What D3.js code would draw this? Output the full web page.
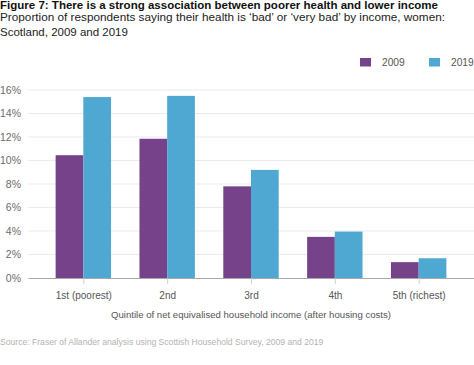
<!DOCTYPE html>
<html>
<head>
<meta charset="utf-8">
<script src="https://cdn.jsdelivr.net/npm/d3@7"></script>
<style>
  html, body { margin: 0; padding: 0; background: #fff; }
  svg { display: block; font-family: "Liberation Sans", Arial, Helvetica, sans-serif; }
</style>
</head>
<body>
<svg id="chart" width="474" height="365"></svg>
<script>
// ---- Data ----
const categories = ["1st (poorest)", "2nd", "3rd", "4th", "5th (richest)"];
const seriesNames = ["2009", "2019"];
const values2009 = [10.45, 11.85, 7.8, 3.5, 1.35];
const values2019 = [15.4, 15.5, 9.2, 3.95, 1.68];
const yTicks = [0, 2, 4, 6, 8, 10, 12, 14, 16];
const colors = ["#76428a", "#4ea8d1"];

const titleText = "Figure 7: There is a strong association between poorer health and lower income";
const subtitleLines = [
  "Proportion of respondents saying their health is \u2018bad\u2019 or \u2018very bad\u2019 by income, women:",
  "Scotland, 2009 and 2019"
];
const xAxisTitle = "Quintile of net equivalised household income (after housing costs)";
const sourceText = "Source: Fraser of Allander analysis using Scottish Household Survey, 2009 and 2019";

// ---- Layout ----
const svg = d3.select("#chart");
const plot = { left: 28, right: 474, top: 90, bottom: 278 };

const x = d3.scalePoint().domain(categories).range([plot.left, plot.right]).padding(0.66);
const barW = 27.7;
const xInner = d3.scaleBand().domain(seriesNames).range([-barW, barW]).padding(0);
const y = d3.scaleLinear().domain([0, 16]).range([plot.bottom, plot.top]);

// Titles
svg.append("text").attr("x", 0).attr("y", 9)
  .attr("font-size", 11.5).attr("font-weight", "bold").attr("fill", "#111")
  .attr("textLength", 438).attr("lengthAdjust", "spacingAndGlyphs")
  .text(titleText);
svg.append("text").attr("x", 0).attr("y", 21)
  .attr("font-size", 11.5).attr("fill", "#222")
  .attr("textLength", 445).attr("lengthAdjust", "spacingAndGlyphs")
  .text(subtitleLines[0]);
svg.append("text").attr("x", 0).attr("y", 35.5)
  .attr("font-size", 11.5).attr("fill", "#222")
  .text(subtitleLines[1]);

// Gridlines
svg.append("g").selectAll("line").data(yTicks.filter(d => d > 0)).join("line")
  .attr("x1", plot.left).attr("x2", plot.right)
  .attr("y1", d => y(d)).attr("y2", d => y(d))
  .attr("stroke", "#ebebeb").attr("stroke-width", 1);

// Y axis labels
const yAxis = d3.axisLeft(y).tickValues(yTicks).tickFormat(d => d + "%").tickSize(0).tickPadding(0);
const gy = svg.append("g").attr("transform", "translate(21,0)").call(yAxis);
gy.select(".domain").remove();
gy.selectAll("text").attr("font-size", 10.5).attr("fill", "#6b6b6b")
  .attr("font-family", "'Liberation Sans', Arial, sans-serif");

// Bars
const groups = seriesNames.map((s, i) => ({ name: s, vals: i === 0 ? values2009 : values2019, color: colors[i] }));
groups.forEach(g => {
  svg.append("g").selectAll("rect").data(categories).join("rect")
    .attr("x", c => x(c) + xInner(g.name))
    .attr("width", xInner.bandwidth())
    .attr("y", (c, i) => y(g.vals[i]))
    .attr("height", (c, i) => y(0) - y(g.vals[i]))
    .attr("fill", g.color);
});

// X axis
const xAxis = d3.axisBottom(x).tickSize(6).tickPadding(8).tickSizeOuter(0);
const gx = svg.append("g").attr("transform", `translate(0,${plot.bottom})`).call(xAxis);
gx.select(".domain").attr("stroke", "#a8a8a8").attr("stroke-width", 1.2);
gx.selectAll(".tick line").attr("stroke", "#d0d0d0");
gx.selectAll("text").attr("font-size", 10).attr("fill", "#555")
  .attr("font-family", "'Liberation Sans', Arial, sans-serif");

// X axis title
svg.append("text").attr("x", 251).attr("y", 318).attr("text-anchor", "middle")
  .attr("font-size", 9.6).attr("fill", "#555").text(xAxisTitle);

// Source
svg.append("text").attr("x", 0).attr("y", 345)
  .attr("font-size", 8.6).attr("fill", "#b3b3b3").text(sourceText);

// Legend
const legendX = [360, 429];
seriesNames.forEach((s, i) => {
  svg.append("rect").attr("x", legendX[i]).attr("y", 58).attr("width", 11).attr("height", 8.5).attr("fill", colors[i]);
  svg.append("text").attr("x", legendX[i] + 22).attr("y", 66).attr("font-size", 10.2).attr("fill", "#555").text(s);
});
</script>
</body>
</html>
